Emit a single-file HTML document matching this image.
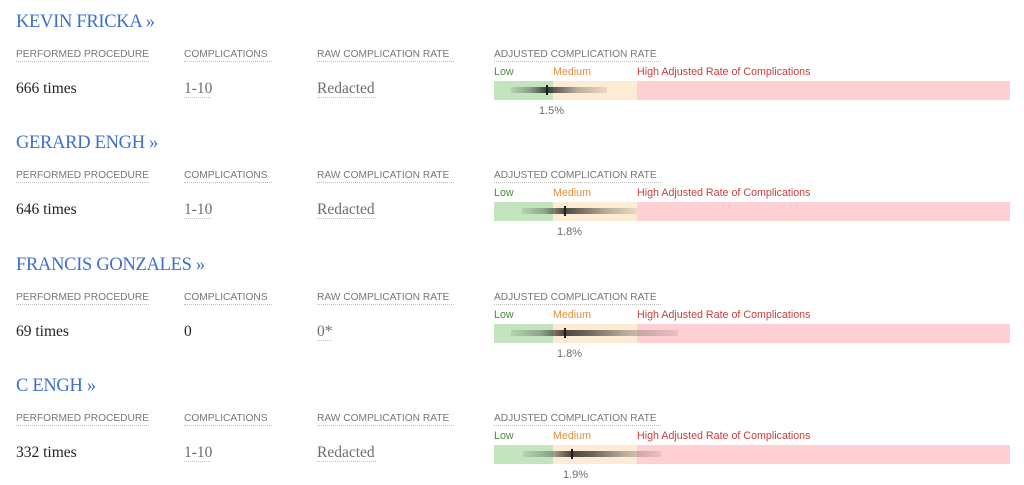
<!DOCTYPE html>
<html>
<head>
<meta charset="utf-8">
<style>
  html,body{margin:0;padding:0;background:#fff;}
  body{width:1024px;height:484px;position:relative;overflow:hidden;}
  .sec{position:absolute;left:0;width:1024px;height:121px;}
  .t{position:absolute;white-space:nowrap;height:20px;line-height:20px;}
  .name{font-family:"Liberation Serif",serif;font-size:18.5px;letter-spacing:-0.3px;color:#3d6fcc;left:16px;top:12px;}
  .hd{font-family:"Liberation Sans",sans-serif;font-size:10.2px;color:#777;top:45px;}
  .ul{position:absolute;height:0;border-bottom:1px dotted #bdbdbd;top:61px;}
  .val{font-family:"Liberation Serif",serif;font-size:15.5px;top:79px;color:#222;}
  .gray{color:#6d6d6d;}
  .vul{position:absolute;height:0;border-bottom:1px dotted #c4c4c4;top:97px;}
  .lab{font-family:"Liberation Sans",sans-serif;font-size:10.7px;top:62px;}
  .low{color:#4a8f3f;left:494px;}
  .med{color:#e2913a;left:553px;}
  .high{color:#c8403f;left:637px;}
  .bar{position:absolute;top:81px;height:19px;}
  .g{background:#c4e4bf;left:494px;width:59px;}
  .o{background:#fdebd4;left:553px;width:84px;}
  .p{background:#ffd0d3;left:637px;width:373px;}
  .strip{position:absolute;top:87px;height:6px;}
  .mk{position:absolute;top:85px;height:10px;width:2px;background:#1e1e1e;}
  .pct{font-family:"Liberation Sans",sans-serif;font-size:11px;color:#6d6d6d;top:101px;}
</style>
</head>
<body>

<!-- Section 1 -->
<div class="sec" style="top:0px;">
  <div class="t name">KEVIN FRICKA »</div>
  <div class="t hd" style="left:16px;">PERFORMED PROCEDURE</div><div class="ul" style="left:16px;width:133px;"></div>
  <div class="t hd" style="left:184px;">COMPLICATIONS</div><div class="ul" style="left:184px;width:88px;"></div>
  <div class="t hd" style="left:317px;">RAW COMPLICATION RATE</div><div class="ul" style="left:317px;width:137px;"></div>
  <div class="t hd" style="left:494px;">ADJUSTED COMPLICATION RATE</div><div class="ul" style="left:494px;width:167px;"></div>
  <div class="t val" style="left:16px;">666 times</div>
  <div class="t val gray" style="left:184px;">1-10</div><div class="vul" style="left:184px;width:27px;"></div>
  <div class="t val gray" style="left:317px;">Redacted</div><div class="vul" style="left:317px;width:59px;"></div>
  <div class="t lab low">Low</div><div class="t lab med">Medium</div><div class="t lab high">High Adjusted Rate of Complications</div>
  <div class="bar g"></div><div class="bar o"></div><div class="bar p"></div>
  <div class="strip" style="left:511px;width:96px;background:linear-gradient(to right,rgba(0,0,0,0.08) 0%,rgba(0,0,0,0.3) 20%,rgba(0,0,0,0.72) 38%,rgba(0,0,0,0.55) 50%,rgba(0,0,0,0.25) 70%,rgba(0,0,0,0.08) 100%);"></div>
  <div class="mk" style="left:546px;"></div>
  <div class="t pct" style="left:539px;">1.5%</div>
</div>

<!-- Section 2 -->
<div class="sec" style="top:121px;">
  <div class="t name">GERARD ENGH »</div>
  <div class="t hd" style="left:16px;">PERFORMED PROCEDURE</div><div class="ul" style="left:16px;width:133px;"></div>
  <div class="t hd" style="left:184px;">COMPLICATIONS</div><div class="ul" style="left:184px;width:88px;"></div>
  <div class="t hd" style="left:317px;">RAW COMPLICATION RATE</div><div class="ul" style="left:317px;width:137px;"></div>
  <div class="t hd" style="left:494px;">ADJUSTED COMPLICATION RATE</div><div class="ul" style="left:494px;width:167px;"></div>
  <div class="t val" style="left:16px;">646 times</div>
  <div class="t val gray" style="left:184px;">1-10</div><div class="vul" style="left:184px;width:27px;"></div>
  <div class="t val gray" style="left:317px;">Redacted</div><div class="vul" style="left:317px;width:59px;"></div>
  <div class="t lab low">Low</div><div class="t lab med">Medium</div><div class="t lab high">High Adjusted Rate of Complications</div>
  <div class="bar g"></div><div class="bar o"></div><div class="bar p"></div>
  <div class="strip" style="left:522px;width:115px;background:linear-gradient(to right,rgba(0,0,0,0.08) 0%,rgba(0,0,0,0.28) 20%,rgba(0,0,0,0.7) 37%,rgba(0,0,0,0.55) 50%,rgba(0,0,0,0.25) 75%,rgba(0,0,0,0.08) 100%);"></div>
  <div class="mk" style="left:564px;"></div>
  <div class="t pct" style="left:557px;">1.8%</div>
</div>

<!-- Section 3 -->
<div class="sec" style="top:243px;">
  <div class="t name">FRANCIS GONZALES »</div>
  <div class="t hd" style="left:16px;">PERFORMED PROCEDURE</div><div class="ul" style="left:16px;width:133px;"></div>
  <div class="t hd" style="left:184px;">COMPLICATIONS</div><div class="ul" style="left:184px;width:88px;"></div>
  <div class="t hd" style="left:317px;">RAW COMPLICATION RATE</div><div class="ul" style="left:317px;width:137px;"></div>
  <div class="t hd" style="left:494px;">ADJUSTED COMPLICATION RATE</div><div class="ul" style="left:494px;width:167px;"></div>
  <div class="t val" style="left:16px;">69 times</div>
  <div class="t val" style="left:184px;">0</div>
  <div class="t val gray" style="left:317px;">0*</div><div class="vul" style="left:317px;width:15px;"></div>
  <div class="t lab low">Low</div><div class="t lab med">Medium</div><div class="t lab high">High Adjusted Rate of Complications</div>
  <div class="bar g"></div><div class="bar o"></div><div class="bar p"></div>
  <div class="strip" style="left:511px;width:167px;background:linear-gradient(to right,rgba(0,0,0,0.08) 0%,rgba(0,0,0,0.28) 18%,rgba(0,0,0,0.7) 32%,rgba(0,0,0,0.58) 45%,rgba(0,0,0,0.25) 70%,rgba(0,0,0,0.08) 100%);"></div>
  <div class="mk" style="left:564px;"></div>
  <div class="t pct" style="left:557px;">1.8%</div>
</div>

<!-- Section 4 -->
<div class="sec" style="top:364px;">
  <div class="t name">C ENGH »</div>
  <div class="t hd" style="left:16px;">PERFORMED PROCEDURE</div><div class="ul" style="left:16px;width:133px;"></div>
  <div class="t hd" style="left:184px;">COMPLICATIONS</div><div class="ul" style="left:184px;width:88px;"></div>
  <div class="t hd" style="left:317px;">RAW COMPLICATION RATE</div><div class="ul" style="left:317px;width:137px;"></div>
  <div class="t hd" style="left:494px;">ADJUSTED COMPLICATION RATE</div><div class="ul" style="left:494px;width:167px;"></div>
  <div class="t val" style="left:16px;">332 times</div>
  <div class="t val gray" style="left:184px;">1-10</div><div class="vul" style="left:184px;width:27px;"></div>
  <div class="t val gray" style="left:317px;">Redacted</div><div class="vul" style="left:317px;width:59px;"></div>
  <div class="t lab low">Low</div><div class="t lab med">Medium</div><div class="t lab high">High Adjusted Rate of Complications</div>
  <div class="bar g"></div><div class="bar o"></div><div class="bar p"></div>
  <div class="strip" style="left:523px;width:138px;background:linear-gradient(to right,rgba(0,0,0,0.08) 0%,rgba(0,0,0,0.28) 20%,rgba(0,0,0,0.7) 35%,rgba(0,0,0,0.58) 50%,rgba(0,0,0,0.25) 75%,rgba(0,0,0,0.08) 100%);"></div>
  <div class="mk" style="left:571px;"></div>
  <div class="t pct" style="left:563px;">1.9%</div>
</div>

</body>
</html>
